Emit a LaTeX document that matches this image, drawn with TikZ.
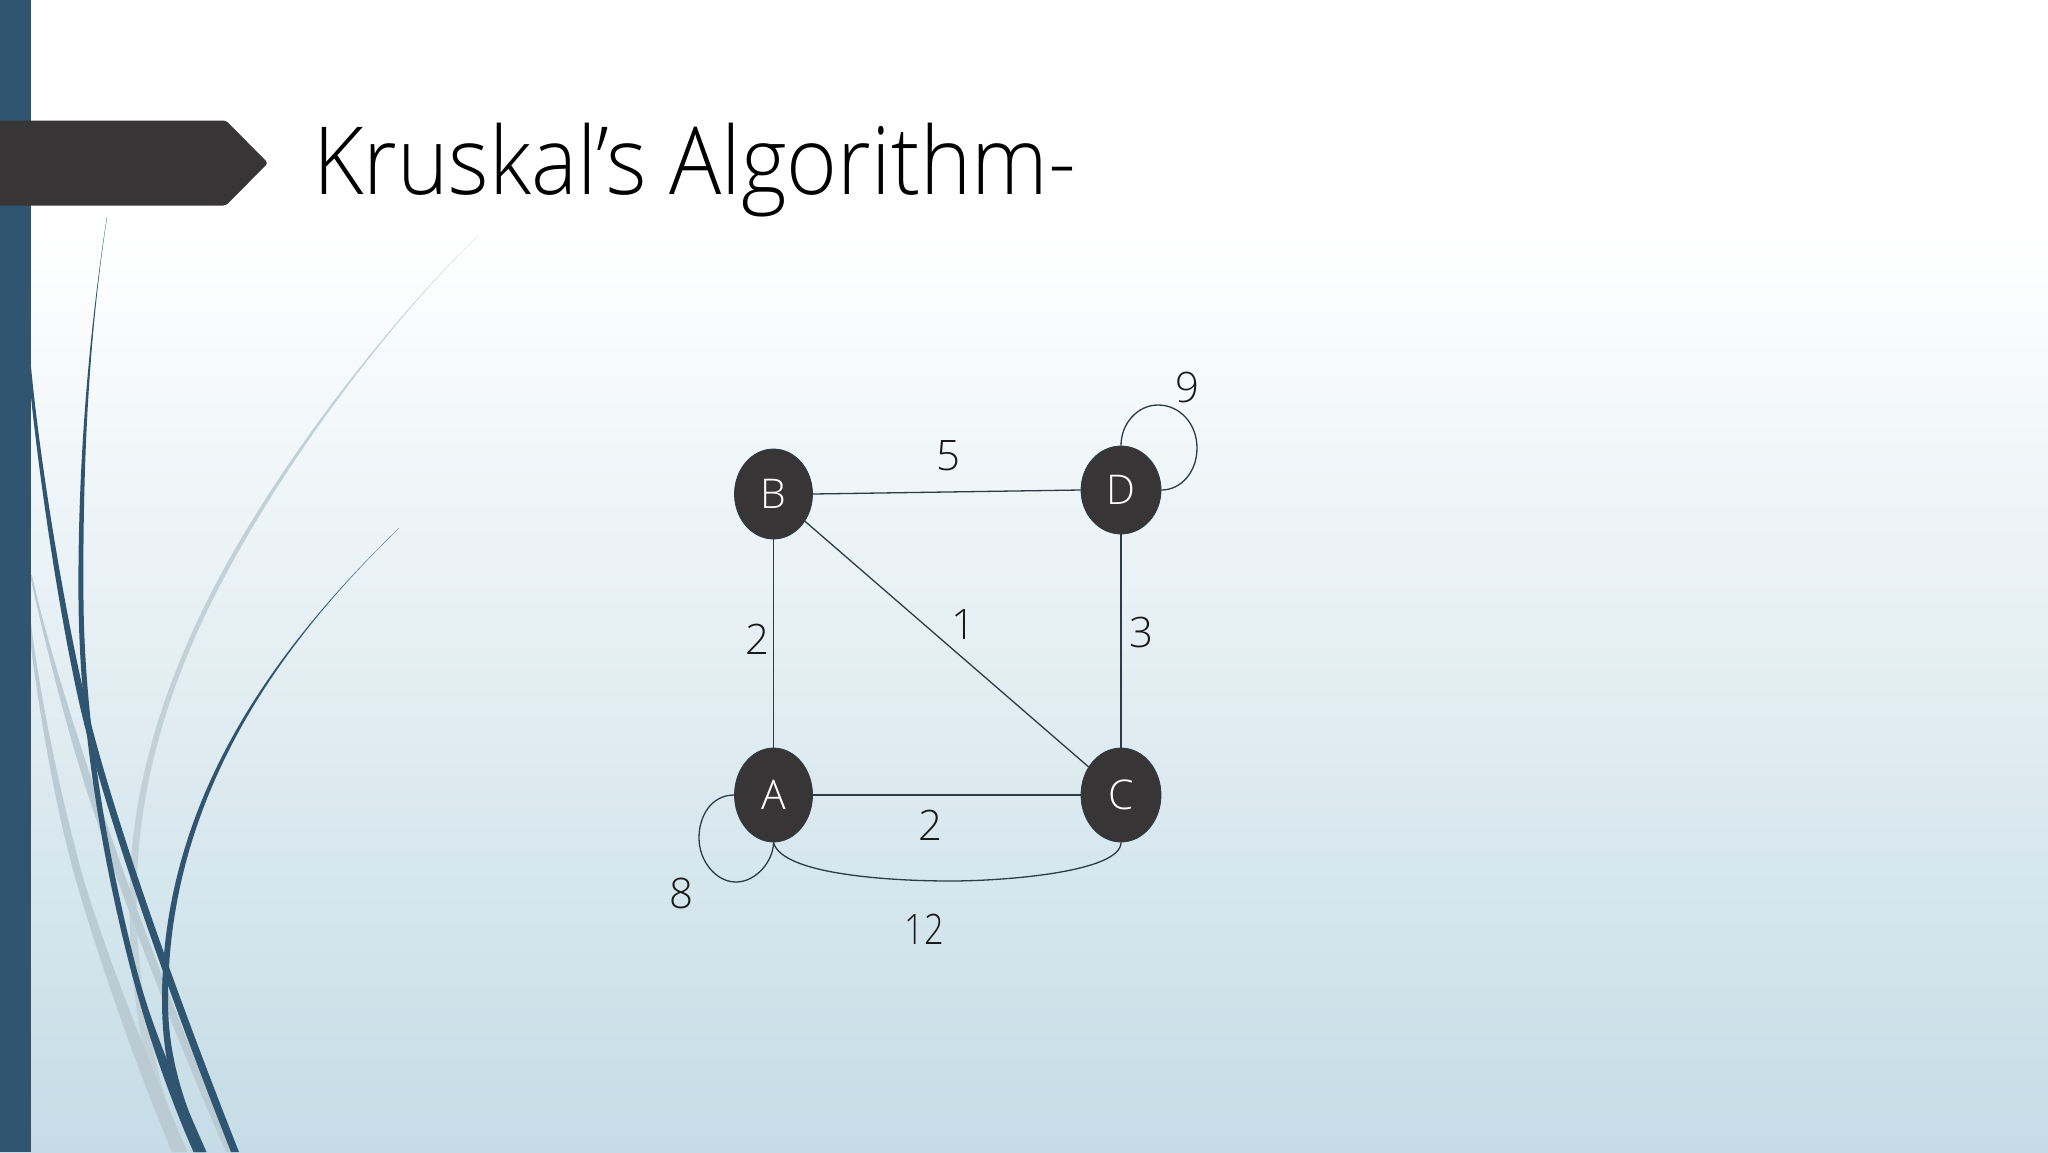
\documentclass[tikz,border=0pt]{standalone}
\usepackage{fontspec}
\setmainfont{Open Sans Light}
\usetikzlibrary{shapes.geometric}
\definecolor{barblue}{HTML}{2F5570}
\definecolor{bgbottom}{HTML}{C5DCE6}
\definecolor{strandgray}{HTML}{AEC2CB}
\definecolor{nodedark}{HTML}{373536}
\definecolor{edgedark}{HTML}{2C3C46}
% tapered strand: colour, start x/y/width, then segments c1x/c1y/c2x/c2y/x/y/width
\newcommand\strand[3]{%
  \gdef\fwd{}\gdef\bwd{}%
  \foreach \sx/\sy/\sw in {#2}{%
    \xdef\px{\sx}\xdef\py{\sy}\xdef\pw{\sw}%
    \pgfmathsetmacro\ax{\sx-\sw/2}%
    \xdef\startpt{(\ax,\sy)}%
  }%
  \foreach \ca/\cb/\cc/\cd/\ex/\ey/\ew in {#3}{%
    \pgfmathsetmacro\la{\ca-\pw/2}\pgfmathsetmacro\ra{\ca+\pw/2}%
    \pgfmathsetmacro\lc{\cc-\ew/2}\pgfmathsetmacro\rc{\cc+\ew/2}%
    \pgfmathsetmacro\le{\ex-\ew/2}\pgfmathsetmacro\re{\ex+\ew/2}%
    \pgfmathsetmacro\rp{\px+\pw/2}%
    \xdef\fwd{\fwd .. controls (\la,\cb) and (\lc,\cd) .. (\le,\ey) }%
    \xdef\bwd{.. controls (\rc,\cd) and (\ra,\cb) .. (\rp,\py) \bwd}%
    \xdef\px{\ex}\xdef\py{\ey}\xdef\pw{\ew}%
    \xdef\endpt{(\re,\ey)}%
  }%
  \edef\strandpath{\noexpand\fill[#1] \startpt \fwd -- \endpt \bwd -- cycle;}%
  \strandpath
}
\tikzset{
  vertex/.style={ellipse,draw=edgedark,line width=.8pt,fill=nodedark,text=white,inner sep=0pt,font=\fontsize{41}{41}\selectfont},
  edgeline/.style={draw=edgedark,line width=1.3pt},
  weight/.style={text=black!90,inner sep=0pt,font=\fontsize{42}{42}\selectfont},
}
\begin{document}
\begin{tikzpicture}[x=1pt,y=-1pt]
\useasboundingbox (0,0) rectangle (2048,1152);
\fill[white] (0,0) rectangle (2048,235);
\shade[top color=white,bottom color=bgbottom] (0,230) rectangle (2048,1152);
% pale strands
\strand{strandgray!75}{478/236/0.3}{390/320/275/470/210/600/5,160/700/133/800/133/900/7,133/990/150/1080/177/1152/12}
\strand{strandgray!85}{31/575/2}{45/640/75/745/100/817/9,135/920/185/1050/230/1152/8}
\strand{strandgray!85}{28/610/3}{38/700/58/800/77/870/8,95/935/140/1060/180/1152/15}
% dark strands
\strand{barblue}{107/217/0.3}{88/340/80/470/81/600/5,82/720/103/850/133/967/6,150/1033/175/1095/200/1152/13}
\strand{barblue}{28/350/3}{38/470/68/650/90/733/7,120/845/175/1000/235/1152/8}
\strand{barblue}{399/528/0.3}{300/625/165/780/165/1000/6,165/1060/180/1105/200/1152/10}
% left bar and title tab
\fill[barblue] (0,0) rectangle (31,1152);
\fill[nodedark,rounded corners=3pt] (-6,120.5) -- (226,120.5) -- (268,163) -- (226,205.5) -- (-6,205.5) -- cycle;
\node[anchor=base west,inner sep=0pt,text=black,xscale=.924,font=\fontsize{94}{94}\selectfont] (title) at (313,194) {Kruskal’s Algorithm-};
% graph
\node[vertex,minimum width=78pt,minimum height=90pt] (B) at (773.5,494) {B};
\node[vertex,minimum width=80pt,minimum height=88pt] (D) at (1121,490) {D};
\node[vertex,minimum width=78pt,minimum height=94pt] (A) at (773.5,795) {A};
\node[vertex,minimum width=80pt,minimum height=94pt] (C) at (1121,795) {C};
\draw[edgeline] (B.east) -- (D.west);
\draw[edgeline] (B) -- (A);
\draw[edgeline] (D) -- (C);
\draw[edgeline] (A) -- (C);
\draw[edgeline] (B) -- (C);
\draw[edgeline] (A.south) .. controls (782,876) and (900,881) .. (950,881) .. controls (1005,881) and (1121,872) .. (C.south);
\draw[edgeline] (A.west) .. controls (712,795) and (699,815) .. (699,838) .. controls (699,861) and (716,882) .. (736,882) .. controls (756,882) and (773.5,861) .. (A.south);
\draw[edgeline] (D.north) .. controls (1121,423) and (1138,405) .. (1158,405) .. controls (1180,405) and (1197,424) .. (1197,448) .. controls (1197,472) and (1181,490) .. (D.east);
% labels
\node[weight] (w5) at (948,456) {5};
\node[weight] (w9) at (1187,387) {9};
\node[weight] (w2a) at (757,639) {2};
\node[weight] (w1) at (963,624) {1};
\node[weight] (w3) at (1141,632) {3};
\node[weight] (w2b) at (930,825) {2};
\node[weight] (w8) at (681,893) {8};
\node[weight,xscale=.82] (w12) at (924,929) {12};
\end{tikzpicture}
\end{document}
